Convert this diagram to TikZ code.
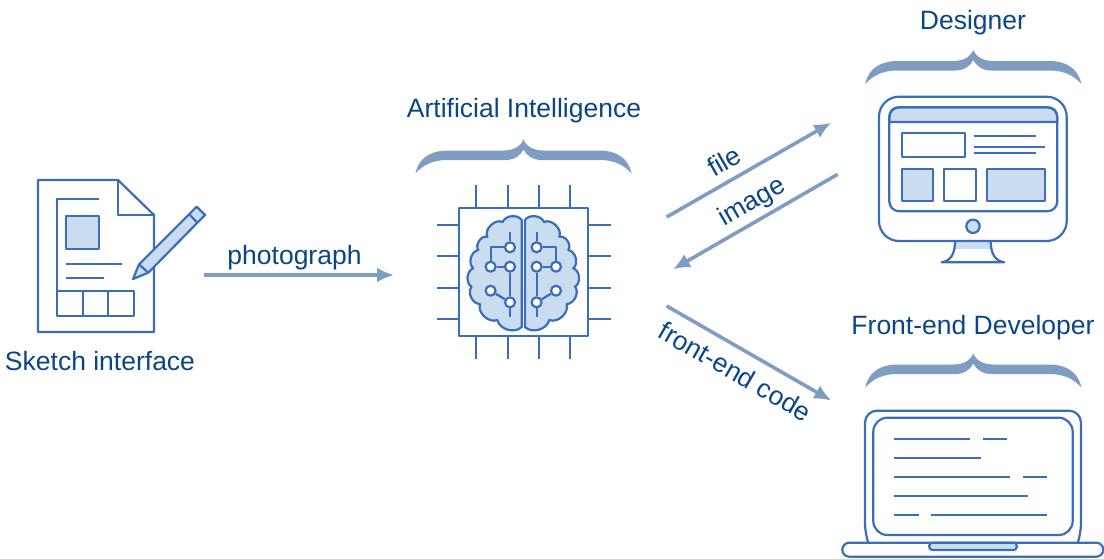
\documentclass[tikz,border=0pt]{standalone}
\usepackage{fontspec}
\setmainfont{Liberation Sans}
\usepackage{xcolor}
\usepackage{tikz}
\usetikzlibrary{arrows.meta}
\usetikzlibrary{positioning}
\definecolor{iconBlue}{HTML}{3B6DB8}
\definecolor{iconFill}{HTML}{C9DCF0}
\definecolor{linkBlue}{HTML}{7F9DC2}
\definecolor{textBlue}{HTML}{0A4588}
\tikzset{icon-line/.style={draw=iconBlue, line width=2.2pt, line join=round}}
\tikzset{icon-fill/.style={icon-line, fill=iconFill}}
\tikzset{icon-white/.style={icon-line, fill=white}}
\tikzset{link-arrow/.style={draw=linkBlue, line width=3.6pt, -{Latex[length=17pt, width=15pt]}}}
\tikzset{title-text/.style={text=textBlue, inner sep=0, font=\fontsize{26.5}{30}\selectfont}}
\tikzset{brain-pin/.style={circle, icon-white, inner sep=0, minimum size=10pt}}
\newcommand{\curlybrace}[2] {
    \fill[linkBlue, shift={(#1,#2)}]
        (-108,34) .. controls (-105,18) and (-92,11) .. (-76,11) -- (-20,11)
        .. controls (-10,11) and (-3,7) .. (0,0)
        .. controls (3,7) and (10,11) .. (20,11) -- (76,11)
        .. controls (92,11) and (105,18) .. (108,34)
        .. controls (100,25) and (90,20.5) .. (76,20.5) -- (18,20.5)
        .. controls (9,20.5) and (3,16) .. (0,10)
        .. controls (-3,16) and (-9,20.5) .. (-18,20.5) -- (-76,20.5)
        .. controls (-90,20.5) and (-100,25) .. (-108,34) -- cycle;
}
\newcommand{\brainlobe}[2] {
    \begin{scope}[shift={(523.3,0)}, xscale=#2]
        \draw[icon-fill] (-1.6,220) to[bend right=60] (-20.7,222) to[bend right=70] (-36,236.7)
            to[bend right=70] (-45,250) to[bend right=65] (-50,268.3) to[bend right=65] (-51.7,286.7)
            to[bend right=65] (-43.3,304) to[bend right=65] (-26,320) to[bend right=60] (-1.6,327)
            -- cycle;
        \node[brain-pin] (pin#1a) at (-13.3,247.3) {};
        \node[brain-pin] (pin#1b) at (-32.7,266.7) {};
        \node[brain-pin] (pin#1c) at (-13.3,266.7) {};
        \node[brain-pin] (pin#1d) at (-32.7,290.7) {};
        \node[brain-pin] (pin#1e) at (-13.3,302.3) {};
        \coordinate (pin#1top) at (-13.3,231.7);
        \coordinate (pin#1low) at (-13.3,316.7);
        \coordinate (pin#1bend) at (-32.7,247.3);
        \draw[icon-line] (pin#1top) -- (pin#1a);
        \draw[icon-line] (pin#1a) -- (pin#1bend) -- (pin#1b);
        \draw[icon-line] (pin#1b) -- (pin#1c);
        \draw[icon-line] (pin#1c) -- (pin#1e);
        \draw[icon-line] (pin#1d) -- (pin#1e);
        \draw[icon-line] (pin#1e) -- (pin#1low);
    \end{scope}
}
\begin{document}
\begin{tikzpicture}[x=1pt, y=-1pt]
    \useasboundingbox (0,0) rectangle (1104,558);

    % sketch
    \draw[icon-line] (38,180) -- (118,180) -- (154,215) -- (154,332) -- (38,332) -- cycle;
    \draw[icon-line] (118,180) -- (118,215) -- (154,215);
    \draw[icon-line] (99,199) -- (57,199) -- (57,291);
    \draw[icon-fill] (66,216) rectangle (99,249);
    \draw[icon-line] (66,264) -- (122,264);
    \draw[icon-line] (66,278) -- (104,278);
    \draw[icon-line] (57,291) rectangle (134,316);
    \draw[icon-line] (83,291) -- (83,316);
    \draw[icon-line] (108,291) -- (108,316);
    \draw[icon-fill] (133,279) -- (139,264.3) -- (196.7,206.7) -- (205,215) -- (148.3,272.7) -- cycle;
    \draw[icon-line] (139,264.3) -- (148.3,272.7);
    \draw[icon-line] (189.3,214.3) -- (197.3,222.7);

    % chip
    \draw[icon-line] (459,208) rectangle (588,336);
    \foreach \pinx in {476.3,507.7,539,570.3} {
        \draw[icon-line] (\pinx,185) -- (\pinx,208);
        \draw[icon-line] (\pinx,336) -- (\pinx,359);
    }
    \foreach \piny in {225.3,256.3,287.7,319} {
        \draw[icon-line] (436.7,\piny) -- (459,\piny);
        \draw[icon-line] (588,\piny) -- (611,\piny);
    }
    \brainlobe{L}{1}
    \brainlobe{R}{-1}

    % monitor
    \fill[iconFill] (955,241) rectangle (990.7,249);
    \draw[icon-line] (955,241) .. controls (955,255) and (950,261) .. (941.7,262.3) -- (1004.3,262.3)
        .. controls (996,261) and (990.7,255) .. (990.7,241);
    \draw[icon-line, rounded corners=20pt] (879,96.7) rectangle (1066.7,241);
    \draw[icon-fill] (889.3,122) -- (889.3,117.3) .. controls (889.3,111) and (893,107.3) .. (899.3,107.3)
        -- (1047.3,107.3) .. controls (1053.6,107.3) and (1057.3,111) .. (1057.3,117.3) -- (1057.3,122) -- cycle;
    \draw[icon-line, rounded corners=10pt] (889.3,107.3) rectangle (1057.3,211.3);
    \draw[icon-white] (902,133.3) rectangle (964.7,156.7);
    \draw[icon-line] (973.7,136) -- (1036.3,136);
    \draw[icon-line] (973.7,146.7) -- (1045,146.7);
    \draw[icon-line] (973.7,153.3) -- (1036.3,153.3);
    \draw[icon-fill] (902,169.3) rectangle (933.3,200.7);
    \draw[icon-white] (944,169.3) rectangle (976,200.7);
    \draw[icon-fill] (986.7,169.3) rectangle (1044.7,200.7);
    \draw[icon-fill] (973,226.3) circle (6.7);

    % laptop
    \draw[icon-line, rounded corners=12pt] (868,542.7) -- (865,535) -- (865,410.7) -- (1081,410.7) -- (1081,535) -- (1078,542.7);
    \draw[icon-line, rounded corners=14pt] (873.3,417.7) rectangle (1072.7,535);
    \draw[icon-white, rounded corners=7pt] (842.3,542.7) rectangle (1103.3,556.7);
    \draw[icon-fill, rounded corners=3pt] (929.3,542.7) rectangle (1016.7,550);
    \draw[icon-line] (894.3,439.3) -- (970,439.3);
    \draw[icon-line] (983,439.3) -- (1007.3,439.3);
    \draw[icon-line] (894.3,458.3) -- (980.7,458.3);
    \draw[icon-line] (894.3,477.3) -- (1010.3,477.3);
    \draw[icon-line] (1023,477.3) -- (1047,477.3);
    \draw[icon-line] (894.3,496.3) -- (1027.7,496.3);
    \draw[icon-line] (894.3,515) -- (918.7,515);
    \draw[icon-line] (931.3,515) -- (1047,515);

    \curlybrace{523.5}{139.5}
    \curlybrace{973.3}{50}
    \curlybrace{973.3}{353.5}

    \node[title-text, anchor=base] (sketchTitle) at (100,370) {Sketch interface};
    \node[title-text, anchor=base] (brainTitle) at (524,117) {Artificial Intelligence};
    \node[title-text, anchor=base] (designerTitle) at (973,29) {Designer};
    \node[title-text, anchor=base] (devTitle) at (973,334) {Front-end Developer};
    \node[title-text, anchor=base] (photoLabel) at (294.5,264.5) {photograph};
    \node[title-text, rotate=30] (fileLabel) at (724,161) {file};
    \node[title-text, rotate=30] (imageLabel) at (752.5,202.5) {image};
    \node[title-text, rotate=-30] (codeLabel) at (735.5,371.5) {front-end code};

    \coordinate (photoStart) at (204,275);
    \coordinate (photoEnd) at (394,275);
    \coordinate (fileStart) at (666.7,217);
    \coordinate (fileEnd) at (831.3,122.7);
    \coordinate (imageStart) at (837.7,174.3);
    \coordinate (imageEnd) at (673,269.3);
    \coordinate (codeStart) at (666.7,306);
    \coordinate (codeEnd) at (831.3,400.6);
    \draw[link-arrow] (photoStart) -- (photoEnd);
    \draw[link-arrow] (fileStart) -- (fileEnd);
    \draw[link-arrow] (imageStart) -- (imageEnd);
    \draw[link-arrow] (codeStart) -- (codeEnd);
\end{tikzpicture}
\end{document}
